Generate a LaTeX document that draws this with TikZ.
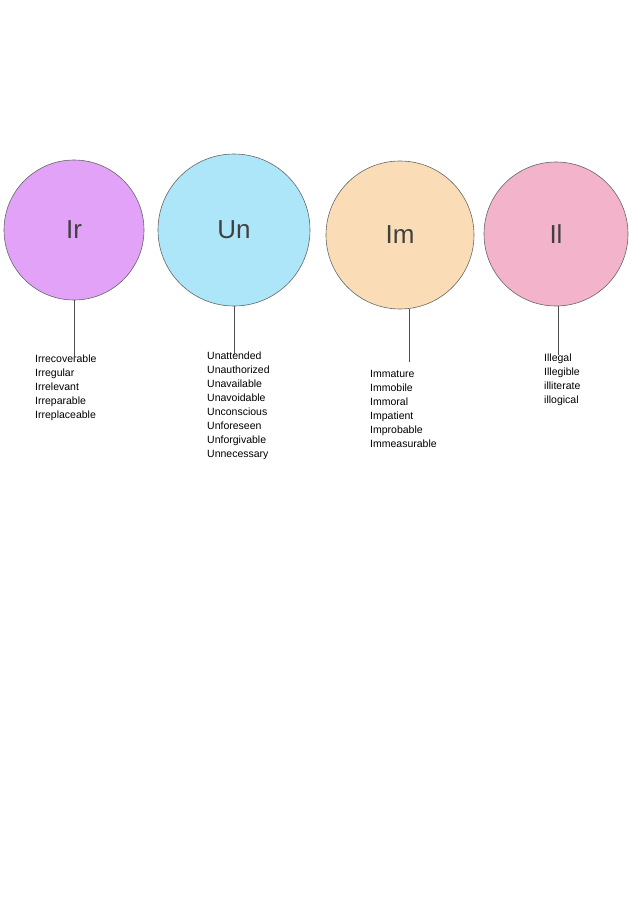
\documentclass[tikz,border=0pt]{standalone}
\usepackage{fontspec}
\setmainfont{Liberation Sans}
\usetikzlibrary{positioning}
\definecolor{irpink}{HTML}{E1A2F7}
\definecolor{unblue}{HTML}{ADE5F9}
\definecolor{impeach}{HTML}{FADDB7}
\definecolor{ilrose}{HTML}{F2B3CB}
\tikzset{
  prefixdisc/.style={circle, draw=gray!80!black, line width=0.6pt, inner sep=0pt,
    font=\fontsize{26}{30}\selectfont, text=black!75},
  wordlist/.style={anchor=north west, align=left, inner sep=0pt,
    font=\fontsize{10.5}{14}\selectfont},
  stem/.style={draw=black!70, line width=0.5pt}
}
\begin{document}
\begin{tikzpicture}[x=1pt,y=-1pt]
    \useasboundingbox (0,0) rectangle (638,902);
    \node[prefixdisc, fill=irpink, minimum size=140] (ir) at (74,230) {Ir};
    \node[prefixdisc, fill=unblue, minimum size=152] (un) at (234,230) {Un};
    \node[prefixdisc, fill=impeach, minimum size=148] (im) at (400,235) {Im};
    \node[prefixdisc, fill=ilrose, minimum size=144] (il) at (556,234) {Il};

    \node[wordlist] (irwords) at (35,355) {Irrecoverable\\Irregular\\Irrelevant\\Irreparable\\Irreplaceable};
    \node[wordlist] (unwords) at (207,352) {Unattended\\Unauthorized\\Unavailable\\Unavoidable\\Unconscious\\Unforeseen\\Unforgivable\\Unnecessary};
    \node[wordlist] (imwords) at (370,370) {Immature\\Immobile\\Immoral\\Impatient\\Improbable\\Immeasurable};
    \node[wordlist] (ilwords) at (544,354) {Illegal\\Illegible\\illiterate\\illogical};

    \coordinate (irend) at (74,360);
    \coordinate (unend) at (234,355);
    \coordinate (imend) at (409,362);
    \coordinate (ilend) at (558,355);
    \draw[stem] (ir.south) -- (irend);
    \draw[stem] (un.south) -- (unend);
    \draw[stem] (im.south -| imend) -- (imend);
    \draw[stem] (il.south -| ilend) -- (ilend);
\end{tikzpicture}
\end{document}
